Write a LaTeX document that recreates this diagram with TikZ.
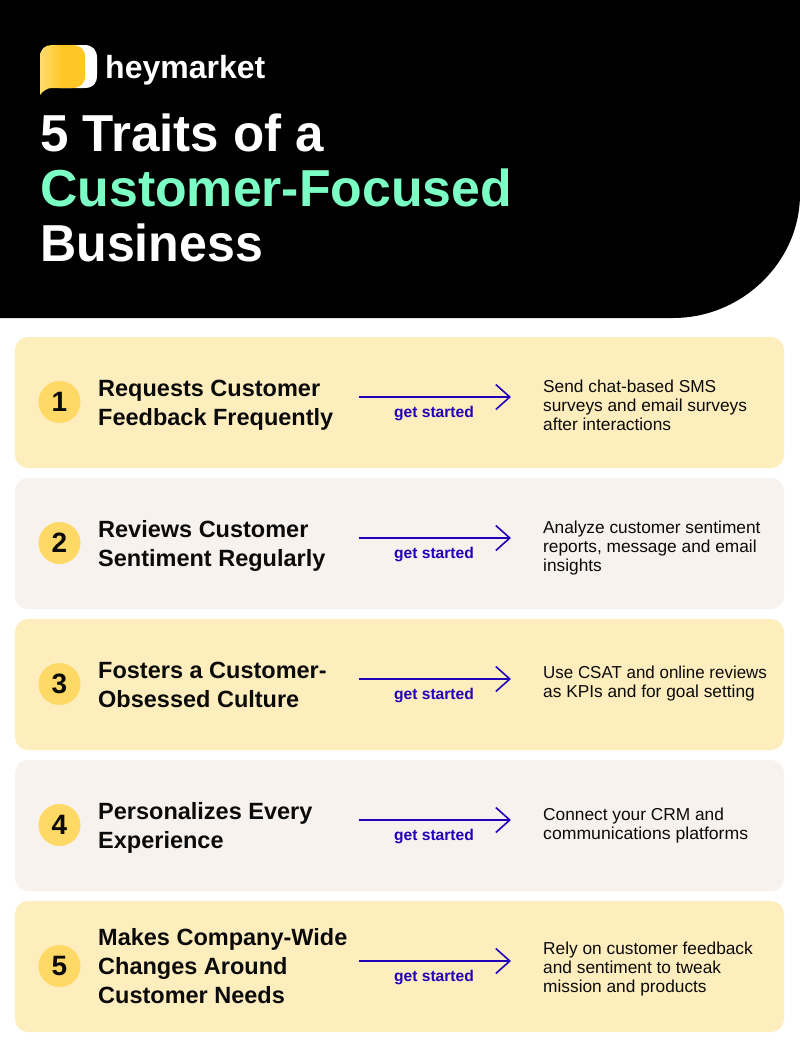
\documentclass[tikz,border=0pt]{standalone}
\usepackage{fontspec}
\setmainfont{Liberation Sans}
\usetikzlibrary{arrows.meta}
\definecolor{bandY}{HTML}{FEEDBD}
\definecolor{bandG}{HTML}{F7F2EE}
\definecolor{disc}{HTML}{FFD966}
\definecolor{mint}{HTML}{7CFFC4}
\definecolor{arrowblue}{HTML}{2000B8}
\definecolor{ink}{HTML}{0A0A0A}
\definecolor{bubL}{HTML}{FFDC6E}
\definecolor{bubR}{HTML}{FFC726}
\tikzset{
  x=1pt,y=-1pt,
  band/.style={rounded corners=13pt,draw=none},
  numdisc/.style={circle,fill=disc,minimum size=42pt,inner sep=0pt,font=\fontsize{28}{28}\selectfont\bfseries,text=ink},
  trait/.style={anchor=west,align=left,inner sep=0pt,font=\fontsize{23.5}{29}\selectfont\bfseries,text=ink},
  action/.style={anchor=west,align=left,inner sep=0pt,font=\fontsize{17.3}{19}\selectfont,text=ink},
  getlabel/.style={anchor=center,inner sep=0pt,font=\fontsize{15.6}{16}\selectfont\bfseries,text=arrowblue},
  flow/.style={draw=arrowblue,line width=1.6pt,-{Straight Barb[length=14pt,width=25pt,line width=1.6pt]}},
  titleline/.style={anchor=base west,inner sep=0pt,transform shape,font=\fontsize{52}{52}\selectfont\bfseries}
}
\begin{document}
\begin{tikzpicture}
\useasboundingbox (0,0) rectangle (800,1053);
\fill[white] (0,0) rectangle (800,1053);
\fill[black] (0,0) -- (800,0) -- (800,194) .. controls (800,262) and (742,318) .. (673,318) -- (0,318) -- cycle;
% logo
\fill[white] (60,45) -- (84,45) .. controls (93,45) and (97,50) .. (97,58) -- (97,75) .. controls (97,84) and (93,88) .. (84,88) -- (60,88) -- cycle;
\shade[left color=bubL,right color=bubR,middle color=bubR]
  (40,57) .. controls (40,49) and (45,45) .. (52,45) -- (72,45) .. controls (80,45) and (85,49) .. (85,57) -- (85,76) .. controls (85,84) and (80,88) .. (72,88) -- (52,88) .. controls (47,88) and (43,91) .. (40,95) -- cycle;
\node[anchor=base west,inner sep=0pt,text=white,font=\fontsize{32}{32}\selectfont\bfseries] (brand) at (105,78) {heymarket};
\begin{scope}[xscale=0.983]\node[titleline,text=white] (t1) at (40.7,151) {5 Traits of a};\end{scope}
\begin{scope}[xscale=0.996]\node[titleline,text=mint] (t2) at (40.2,206) {Customer-Focused};\end{scope}
\begin{scope}[xscale=0.964]\node[titleline,text=white] (t3) at (41.5,261) {Business};\end{scope}
% bands
\foreach \y/\c/\n/\o/\a/\b in {
 337/bandY/1/69/{\strut Requests Customer\\\strut Feedback Frequently}/{\strut Send chat-based SMS\\\strut surveys and email surveys\\\strut after interactions},
 478/bandG/2/69/{\strut Reviews Customer\\\strut Sentiment Regularly}/{\strut Analyze customer sentiment\\\strut reports, message and email\\\strut insights},
 619/bandY/3/63.5/{\strut Fosters a Customer-\\\strut Obsessed Culture}/{\strut\scalebox{0.979}[1]{Use CSAT and online reviews}\\\strut as KPIs and for goal setting},
 760/bandG/4/64.5/{\strut Personalizes Every\\\strut Experience}/{\strut Connect your CRM and\\\strut\scalebox{1.02}[1]{communications platforms}},
 901/bandY/5/67/{\strut Makes Company-Wide\\\strut Changes Around\\\strut Customer Needs}/{\strut Rely on customer feedback\\\strut and sentiment to tweak\\\strut mission and products}}{
  \fill[band,fill=\c] (15,\y) rectangle (784,\y+131);
  \node[numdisc] (n\n) at (59.5,\y+65) {\n};
  \node[trait] (h\n) at (98,\y+68) {\a};
  \node[action] (d\n) at (543,\y+\o+1.5) {\b};
  \coordinate (s\n) at (359,\y+60);
  \coordinate (e\n) at (511,\y+60);
  \draw[flow] (s\n) -- (e\n);
  \node[getlabel] (g\n) at (434,\y+76) {get started};
}
\end{tikzpicture}
\end{document}
